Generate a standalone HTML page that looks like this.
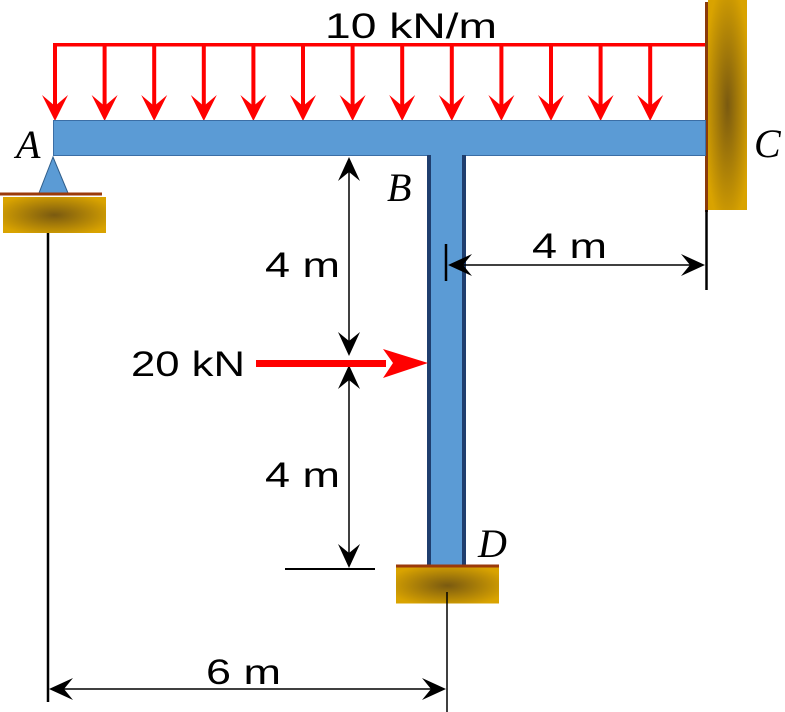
<!DOCTYPE html>
<html><head><style>html,body{margin:0;padding:0;background:#fff}svg{display:block}</style></head>
<body>
<svg width="785" height="712" viewBox="0 0 785 712" xmlns="http://www.w3.org/2000/svg">
<defs>
<radialGradient id="g" cx="50%" cy="50%" r="60%">
<stop offset="0" stop-color="#7a5a10"/><stop offset="1" stop-color="#d9a300"/>
</radialGradient>
</defs>
<g fill="#ff0000" stroke="none">
<rect x="53" y="43" width="653" height="3.5"/>
<g id="ar">
<rect x="53" y="45" width="4" height="65"/>
<path d="M55 121 L42 95 L55 106 L68 95 Z"/>
</g>
<use href="#ar" x="49.6"/><use href="#ar" x="99.2"/><use href="#ar" x="148.8"/><use href="#ar" x="198.4"/><use href="#ar" x="248"/><use href="#ar" x="297.6"/><use href="#ar" x="347.2"/><use href="#ar" x="396.8"/><use href="#ar" x="446.4"/><use href="#ar" x="496"/><use href="#ar" x="545.6"/><use href="#ar" x="595.2"/>
</g>
<rect x="708" y="0" width="39" height="210" fill="url(#g)"/>
<rect x="705" y="2" width="3" height="210" fill="#8b3a0a"/>
<line x1="706.5" y1="210" x2="706.5" y2="290" stroke="#000" stroke-width="2.5"/>
<rect x="53.5" y="120.5" width="652" height="35" fill="#5b9bd5" stroke="#3b6ea5" stroke-width="1"/>
<rect x="427" y="155" width="39" height="411" fill="#5b9bd5"/>
<rect x="427" y="155" width="4" height="411" fill="#1f3e6e"/>
<rect x="462" y="155" width="4" height="411" fill="#1f3e6e"/>
<path d="M53 157 L39 193 L68 193 Z" fill="#5b9bd5" stroke="#2f5d8a" stroke-width="1"/>
<rect x="0" y="192.5" width="102" height="3" fill="#9b3a0a"/>
<rect x="3" y="197" width="103" height="36" fill="url(#g)"/>
<rect x="396" y="564.5" width="103" height="3" fill="#9b3a0a"/>
<rect x="396" y="567.5" width="103" height="36" fill="url(#g)"/>
<g stroke="#000" fill="none">
<line x1="48" y1="233" x2="48" y2="702" stroke-width="2.5"/>
<line x1="447" y1="592" x2="447" y2="712" stroke-width="1.5"/>
<line x1="52" y1="689" x2="443" y2="689" stroke-width="1.5"/>
<line x1="349" y1="160" x2="349" y2="352" stroke-width="1.5"/>
<line x1="349" y1="368" x2="349" y2="565" stroke-width="1.5"/>
<line x1="285" y1="569" x2="375" y2="569" stroke-width="2"/>
<line x1="450" y1="265" x2="702" y2="265" stroke-width="1.5"/>
<line x1="446" y1="244" x2="446" y2="281" stroke-width="2.5"/>
</g>
<g fill="#000">
<path d="M49 689 L73 678 L64 689 L73 700 Z"/>
<path d="M446 689 L422 678 L431 689 L422 700 Z"/>
<path d="M349 157 L338 181 L349 172 L360 181 Z"/>
<path d="M349 356 L338 332 L349 341 L360 332 Z"/>
<path d="M349 365 L338 389 L349 380 L360 389 Z"/>
<path d="M349 568 L338 544 L349 553 L360 544 Z"/>
<path d="M448 265 L472 254 L463 265 L472 276 Z"/>
<path d="M705 265 L681 254 L690 265 L681 276 Z"/>
</g>
<rect x="256" y="360" width="130" height="7" fill="#ff0000"/>
<path d="M428 363 L383 349 L393 363 L383 378 Z" fill="#ff0000"/>
<g font-family="'Liberation Sans', sans-serif" font-size="35" fill="#000" lengthAdjust="spacingAndGlyphs">
<text x="325" y="38" textLength="172" lengthAdjust="spacingAndGlyphs">10 kN/m</text>
<text x="265" y="277" textLength="75" lengthAdjust="spacingAndGlyphs">4 m</text>
<text x="265" y="487" textLength="75" lengthAdjust="spacingAndGlyphs">4 m</text>
<text x="532" y="258" textLength="75" lengthAdjust="spacingAndGlyphs">4 m</text>
<text x="131" y="376" textLength="114" lengthAdjust="spacingAndGlyphs">20 kN</text>
<text x="206" y="684" textLength="75" lengthAdjust="spacingAndGlyphs">6 m</text>
</g>
<g font-family="'Liberation Serif', serif" font-style="italic" font-size="40" fill="#000">
<text x="16" y="158">A</text>
<text x="387" y="201">B</text>
<text x="754" y="157">C</text>
<text x="478" y="557">D</text>
</g>
</svg>
</body></html>
